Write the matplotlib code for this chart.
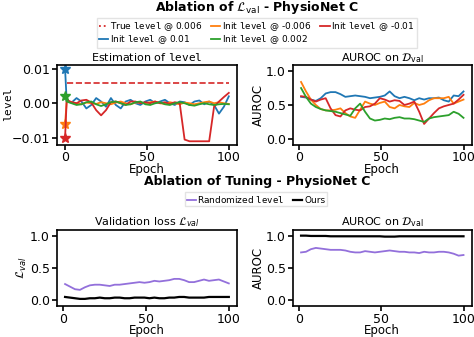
import matplotlib
matplotlib.use('Agg')
from matplotlib import pyplot as plt
from matplotlib.lines import Line2D

# epochs used for every curve (level runs also have the init point at epoch 0)
epochs = list(range(1, 101, 3))
epochs_lvl = [0] + epochs

# estimated level (x 1e-3), first value is the init level
lvl_blue = [10, 0.5, 0.2, 1.5, 0.5, -1.5, -0.5, 1.5, 0.5, -1.0, 1.5, -0.5, -1.5, 0.5, 1.0, 0,
            -0.5, 0.5, 1.0, 0, 0.5, 1.0, 0, -0.5, 0.5, 0.3, -0.5, 0.5, 0.8, -0.3, 0.5, -0.5,
            -3.0, -1.0, 2.0]
lvl_orange = [-6, 0.5, 0.3, 0, -0.3, 0.2, 0, -0.2, 0.3, 0, -0.3, 0.2, 0.5, 0, -0.3, 0.2, 0.3,
              0, 0.3, 0.5, 0, -0.2, 0.3, 0, -0.3, 0.2, 0, -0.3, 0, 0.3, 0.5, 0, 0.3, 0, -0.2]
lvl_red = [-10, 1.0, 0.3, 0, 0.8, 1.0, 0.2, -2.0, -3.5, -2.0, 0.3, 0.5, 0, -0.5, 0.5, 0.5, 0,
           0.3, 0, 0.5, 0, 0.3, -0.2, 0.3, 0, -10.5, -11, -11, -11, -11, -11, -1.0, 0.5, 1.8, 3.0]
lvl_green = [2, 0.5, 0, -0.5, -0.3, 0.3, 0.5, -0.3, -0.8, -0.3, 0.3, 0.5, 0, -0.5, -0.3, 0.3,
             0.5, -0.3, -0.5, 0, 0.3, -0.3, -0.5, 0, 0.3, 0, -0.5, -0.7, -0.3, 0, -0.3, -0.5,
             -0.3, -0.2, -0.3]
true_level = 0.006

# AUROC on validation set, level ablation
auc_blue = [0.62, 0.61, 0.58, 0.56, 0.6, 0.67, 0.69, 0.69, 0.66, 0.62, 0.63, 0.64, 0.63, 0.62,
            0.6, 0.61, 0.62, 0.64, 0.7, 0.63, 0.6, 0.62, 0.6, 0.57, 0.6, 0.58, 0.6, 0.6, 0.61,
            0.57, 0.55, 0.64, 0.63, 0.7]
auc_orange = [0.84, 0.7, 0.58, 0.5, 0.44, 0.42, 0.42, 0.43, 0.45, 0.38, 0.33, 0.31, 0.43, 0.55,
              0.52, 0.5, 0.53, 0.55, 0.47, 0.45, 0.5, 0.48, 0.47, 0.53, 0.5, 0.52, 0.57, 0.6,
              0.6, 0.6, 0.62, 0.52, 0.55, 0.58]
auc_red = [0.63, 0.62, 0.58, 0.55, 0.58, 0.6, 0.45, 0.35, 0.33, 0.42, 0.45, 0.43, 0.42, 0.47,
           0.48, 0.52, 0.6, 0.58, 0.55, 0.57, 0.56, 0.5, 0.52, 0.55, 0.4, 0.22, 0.3, 0.38, 0.45,
           0.48, 0.5, 0.52, 0.58, 0.65]
auc_green = [0.75, 0.62, 0.52, 0.47, 0.44, 0.42, 0.41, 0.4, 0.38, 0.36, 0.34, 0.45, 0.52, 0.4,
             0.3, 0.27, 0.28, 0.3, 0.29, 0.31, 0.32, 0.3, 0.3, 0.29, 0.27, 0.25, 0.3, 0.32, 0.33,
             0.34, 0.35, 0.4, 0.37, 0.31]

# tuning ablation
loss_rand = [0.25, 0.21, 0.17, 0.16, 0.2, 0.23, 0.24, 0.24, 0.23, 0.22, 0.24, 0.24, 0.25, 0.26,
             0.27, 0.28, 0.27, 0.28, 0.3, 0.29, 0.3, 0.31, 0.33, 0.33, 0.31, 0.28, 0.28, 0.3,
             0.32, 0.3, 0.31, 0.32, 0.29, 0.26]
loss_ours = [0.05, 0.04, 0.03, 0.02, 0.02, 0.03, 0.03, 0.04, 0.03, 0.03, 0.04, 0.04, 0.03, 0.03,
             0.04, 0.04, 0.04, 0.03, 0.04, 0.03, 0.03, 0.04, 0.04, 0.05, 0.05, 0.04, 0.04, 0.04,
             0.04, 0.05, 0.05, 0.05, 0.05, 0.05]
auc_rand = [0.74, 0.75, 0.79, 0.81, 0.8, 0.79, 0.78, 0.78, 0.78, 0.77, 0.75, 0.74, 0.74, 0.76,
            0.75, 0.74, 0.75, 0.76, 0.77, 0.76, 0.75, 0.75, 0.74, 0.74, 0.73, 0.75, 0.74, 0.74,
            0.75, 0.75, 0.74, 0.72, 0.69, 0.7]
auc_ours = [1.0, 1.0, 0.995, 0.995, 0.995, 0.995, 0.99, 0.99, 0.99, 0.99, 0.99, 0.99, 0.99, 0.99,
            0.99, 0.99, 0.99, 0.985, 0.985, 0.985, 0.99, 0.99, 0.99, 0.99, 0.99, 0.99, 0.99,
            0.99, 0.99, 0.99, 0.99, 0.99, 0.99, 0.99]

init_labels = ['0.01', '-0.006', '-0.01', '0.002']
colors = ['#1f77b4', '#ff7f0e', '#d62728', '#2ca02c']
purple = '#9370DB'

plt.rcParams['font.size'] = 8
plt.rcParams['axes.linewidth'] = 1.2
plt.rcParams['xtick.major.width'] = 1.2
plt.rcParams['ytick.major.width'] = 1.2
plt.rcParams['xtick.major.size'] = 3.5
plt.rcParams['ytick.major.size'] = 3.5
plt.rcParams['xtick.major.pad'] = 1.2
plt.rcParams['ytick.major.pad'] = 1.5
plt.rcParams['xtick.labelsize'] = 9
plt.rcParams['ytick.labelsize'] = 9

fig = plt.figure(figsize=(4.74, 3.37), dpi=100)
ax1 = fig.add_axes([0.120, 0.570, 0.380, 0.237])
ax2 = fig.add_axes([0.618, 0.570, 0.377, 0.237])
ax3 = fig.add_axes([0.120, 0.092, 0.380, 0.226])
ax4 = fig.add_axes([0.618, 0.092, 0.377, 0.226])

# ---- level estimation
ax1.plot(epochs, [true_level] * len(epochs), '--', color=colors[2], lw=1.2)
for vals, c in zip([lvl_blue, lvl_orange, lvl_red, lvl_green], colors):
    v = [x * 1e-3 for x in vals]
    ax1.plot(epochs_lvl, v, color=c, lw=1.3)
    ax1.plot(epochs_lvl[0], v[0], '*', color=c, ms=7)
ax1.set_yticks([-0.01, 0.0, 0.01])
ax1.set_xticks([0, 50, 100])
ax1.set_xlabel('Epoch', fontsize=8.5, labelpad=-1)
ax1.set_ylabel(r'$\mathtt{level}$', fontsize=8, labelpad=-1.5)
ax1.set_title(r'Estimation of $\mathtt{level}$', fontsize=8, pad=3)

for vals, c in zip([auc_blue, auc_orange, auc_red, auc_green], colors):
    ax2.plot(epochs, vals, color=c, lw=1.3)
ax2.set_ylim(-0.09, 1.09)
ax2.set_yticks([0.0, 0.5, 1.0])
ax2.set_xticks([0, 50, 100])
ax2.set_xlabel('Epoch', fontsize=8.5, labelpad=-1)
ax2.set_ylabel('AUROC', fontsize=8.5, labelpad=1)
ax2.set_title(r'AUROC on $\mathcal{D}_{\mathrm{val}}$', fontsize=8, pad=3)

handles = [Line2D([], [], ls=':', color=colors[2], lw=1.3)]
handles += [Line2D([], [], color=c, lw=1.3) for c in colors]
labels = [r'True $\mathtt{level}$ @ 0.006'] + [r'Init $\mathtt{level}$ @ ' + s for s in init_labels]
order = [0, 1, 2, 4, 3]
fig.legend([handles[i] for i in order], [labels[i] for i in order], ncol=3,
           loc='center', bbox_to_anchor=(0.542, 0.902), fontsize=6.5, handlelength=1,
           handletextpad=0.2, columnspacing=1.0, borderpad=0.2, labelspacing=0.1,
           fancybox=False, edgecolor='#dddddd')
fig.text(0.542, 0.979, r'Ablation of $\mathcal{L}_{\mathrm{val}}$ - PhysioNet C',
         ha='center', va='center', fontsize=9, fontweight='bold')

# ---- tuning ablation
ax3.plot(epochs, loss_rand, color=purple, lw=1.3)
ax3.plot(epochs, loss_ours, color='black', lw=1.6)
ax3.set_ylim(-0.09, 1.09)
ax3.set_yticks([0.0, 0.5, 1.0])
ax3.set_xticks([0, 50, 100])
ax3.set_xlabel('Epoch', fontsize=8.5, labelpad=-1)
ax3.set_ylabel(r'$\mathcal{L}_{val}$', fontsize=8.5, labelpad=1)
ax3.set_title(r'Validation loss $\mathcal{L}_{val}$', fontsize=8, pad=3)

ax4.plot(epochs, auc_rand, color=purple, lw=1.3)
ax4.plot(epochs, auc_ours, color='black', lw=1.6)
ax4.set_ylim(-0.09, 1.09)
ax4.set_yticks([0.0, 0.5, 1.0])
ax4.set_xticks([0, 50, 100])
ax4.set_xlabel('Epoch', fontsize=8.5, labelpad=-1)
ax4.set_ylabel('AUROC', fontsize=8.5, labelpad=1)
ax4.set_title(r'AUROC on $\mathcal{D}_{\mathrm{val}}$', fontsize=8, pad=3)

fig.legend([Line2D([], [], color=purple, lw=1.3), Line2D([], [], color='black', lw=1.6)],
           [r'Randomized $\mathtt{level}$', 'Ours'], ncol=2, loc='center',
           bbox_to_anchor=(0.540, 0.409), fontsize=6.5, handlelength=1, handletextpad=0.2,
           columnspacing=1.0, borderpad=0.2, fancybox=False, edgecolor='#dddddd')
fig.text(0.542, 0.46, 'Ablation of Tuning - PhysioNet C', ha='center', va='center',
         fontsize=9, fontweight='bold')

fig.savefig('out.png', dpi=100)
